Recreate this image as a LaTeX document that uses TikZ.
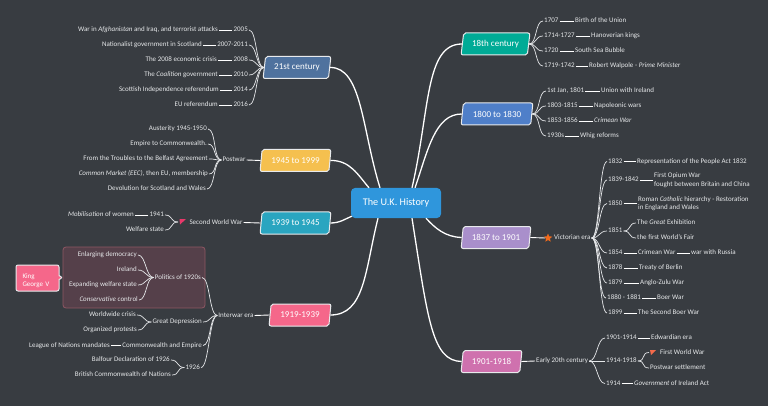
\documentclass[tikz,border=0pt]{standalone}
\usepackage{xcolor}
\usepackage{fontspec}
\setmainfont{Carlito}
\usetikzlibrary{shapes.geometric,shapes.callouts}
\definecolor{slate}{HTML}{383C41}
\definecolor{leaftext}{HTML}{E6E8EA}
\definecolor{edgewhite}{HTML}{E8EAEC}
\definecolor{blueroot}{HTML}{2F96DC}
\definecolor{bluesteel}{HTML}{4F729E}
\definecolor{amber}{HTML}{F5C04F}
\definecolor{teal}{HTML}{2AA5C0}
\definecolor{rosepink}{HTML}{F5678A}
\definecolor{jade}{HTML}{00AB96}
\definecolor{bluemid}{HTML}{4F7FC9}
\definecolor{lilac}{HTML}{A98FCB}
\definecolor{orchid}{HTML}{CF71AE}
\definecolor{grpfill}{HTML}{55404A}
\definecolor{grpline}{HTML}{8F5763}
\definecolor{starorange}{HTML}{F26A1B}
\definecolor{flagred}{HTML}{E8386A}
\definecolor{flagorange}{HTML}{F46A4B}
\tikzset{
	leaf/.style={inner sep=1pt,text=leaftext,text height=5pt,text depth=1.5pt,font=\fontsize{7}{8.4}\selectfont},
	leafl/.style={leaf,anchor=east},
	leafr/.style={leaf,anchor=west},
	para/.style={inner sep=1pt,text=leaftext,anchor=west,align=left,font=\fontsize{7}{8.4}\selectfont},
	topic/.style={trapezium,trapezium left angle=76,trapezium right angle=104,trapezium stretches=true,
		rounded corners=2pt,draw=edgewhite,line width=1pt,minimum height=22pt,inner sep=0pt,
		text=white,font=\fontsize{9}{10}\selectfont},
	trunk/.style={draw=white,line width=1.3pt},
	link/.style={draw=white,line width=0.9pt},
	thinline/.style={draw=leaftext,line width=0.7pt},
	twigl/.style={out=180,in=0,distance=8pt},
	twigr/.style={out=0,in=180,distance=8pt}
}
\begin{document}
\begin{tikzpicture}[x=1pt,y=-1pt]
	\fill[slate] (0,0) rectangle (768,406);
	\useasboundingbox (0,0) rectangle (768,406);

	% group behind the politics branch
	\node[rectangle,rounded corners=3pt,fill=grpfill,draw=grpline,line width=0.8pt,minimum width=142pt,minimum height=61pt,inner sep=0pt] (grp) at (134,277.5) {};
	\node[rectangle callout,callout absolute pointer={(grp.west)},callout pointer width=4pt,rounded corners=2pt,
		fill=rosepink,draw=edgewhite,line width=1pt,minimum width=43pt,minimum height=26pt,inner sep=2pt,text=white,
		align=left,text width=30pt,text depth=4pt,font=\fontsize{7}{8.4}\selectfont] (king) at (37.5,278) {King\\George V};

	% root and topics
	\node[rectangle,rounded corners=4pt,fill=blueroot,minimum width=90pt,minimum height=30pt,inner sep=0pt,text=white,font=\fontsize{10.2}{11}\selectfont] (hist) at (396,203) {The U.K. History};
	\node[topic,fill=bluesteel,minimum width=68pt] (tcent) at (297,67.5) {21st century};
	\node[topic,fill=amber,minimum width=71pt] (tpost) at (295.5,160.5) {1945 to 1999};
	\node[topic,fill=teal,minimum width=71pt] (twar) at (295.5,223) {1939 to 1945};
	\node[topic,fill=rosepink,minimum width=62pt] (tinter) at (300,315) {1919-1939};
	\node[topic,fill=jade,minimum width=69pt] (teight) at (495.5,44) {18th century};
	\node[topic,fill=bluemid,minimum width=72pt] (tnine) at (497,114) {1800 to 1830};
	\node[topic,fill=lilac,minimum width=70pt] (tvict) at (496,237.5) {1837 to 1901};
	\node[topic,fill=orchid,minimum width=61pt] (tearly) at (491.5,361.5) {1901-1918};

	\draw[trunk] ([xshift=-16pt]hist.north) .. controls (362,130) and (362,67) .. (tcent.east);
	\draw[trunk] ([xshift=-27pt]hist.north) .. controls (358,175) and (350,160) .. (tpost.east);
	\draw[trunk] ([xshift=1pt,yshift=2pt]hist.south west) .. controls (345,219) and (340,223) .. (twar.east);
	\draw[trunk] ([xshift=-18pt]hist.south) .. controls (365,270) and (365,315) .. (tinter.east);
	\draw[trunk] ([xshift=16pt]hist.north) .. controls (430,110) and (425,44) .. (teight.west);
	\draw[trunk] ([xshift=19pt]hist.north) .. controls (428,150) and (435,114) .. (tnine.west);
	\draw[trunk] ([xshift=30pt]hist.south) .. controls (435,228) and (445,237) .. (tvict.west);
	\draw[trunk] ([xshift=16pt]hist.south) .. controls (428,320) and (432,361) .. (tearly.west);

	% 21st century
	\node[leafl] (ca) at (249,30) {2005};
	\node[leafl] (cb) at (249,45) {2007-2011};
	\node[leafl] (cc) at (249,60) {2008};
	\node[leafl] (cd) at (249,75) {2010};
	\node[leafl] (ce) at (249,90) {2014};
	\node[leafl] (cf) at (249,105) {2016};
	\node[leafl] (cat) at (219,30) {War in \textit{Afghanistan} and Iraq, and terrorist attacks};
	\node[leafl] (cbt) at (203,45) {Nationalist government in Scotland};
	\node[leafl] (cct) at (218,60) {The 2008 economic crisis};
	\node[leafl] (cdt) at (219,75) {The \textit{Coalition} government};
	\node[leafl] (cet) at (220,90) {Scottish Independence referendum};
	\node[leafl] (cft) at (219,105) {EU referendum};
	\foreach \k in {a,b,c,d,e,f} {
		\draw[thinline] (tcent.west) to[twigl] (c\k.east);
		\draw[link] (c\k.west) -- (c\k t.east);
	}

	% 1945 to 1999
	\node[leaf] (pw) at (234,160) {Postwar};
	\node[leafl] (pa) at (208,129) {Austerity 1945-1950};
	\node[leafl] (pb) at (208,144) {Empire to Commonwealth.};
	\node[leafl] (pc) at (209,159) {From the Troubles to the Belfast Agreement};
	\node[leafl] (pd) at (209,174) {\textit{Common Market (EEC)}, then EU, membership};
	\node[leafl] (pe) at (207,189) {Devolution for Scotland and Wales};
	\draw[link] (tpost.west) -- (pw.east);
	\foreach \k in {a,b,c,d,e}
		\draw[thinline] (pw.west) to[twigl] (p\k.east);

	% 1939 to 1945
	\node[leaf] (sw) at (216,222.5) {Second World War};
	\coordinate (swj) at (178,222);
	\fill[flagred] (179.5,219) -- (186,219) -- (180,224.5) -- cycle;
	\node[leafl] (sa) at (165,215) {1941};
	\node[leafl] (sat) at (135,215) {\textit{Mobilisation} of women};
	\node[leafl] (sb) at (165,230) {Welfare state};
	\draw[link] (twar.west) -- (sw.east);
	\draw[link] (sa.west) -- (sat.east);
	\draw[thinline] (swj) to[twigl] (sa.east);
	\draw[thinline] (swj) to[twigl] (sb.east);

	% 1919-1939
	\node[leaf] (iw) at (236,315.5) {Interwar era};
	\node[leafl] (ia) at (202,277.5) {Politics of 1920s};
	\node[leafl] (ib) at (203,322) {Great Depression};
	\node[leafl] (ic) at (203,345.5) {Commonwealth and Empire};
	\node[leafl] (id) at (201,367.5) {1926};
	\node[leafl] (aa) at (138,255) {Enlarging democracy};
	\node[leafl] (ab) at (138,270) {Ireland};
	\node[leafl] (ac) at (138,285) {Expanding welfare state};
	\node[leafl] (ad) at (139,300) {\textit{Conservative} control};
	\node[leafl] (ba) at (137,315) {Worldwide crisis};
	\node[leafl] (bb) at (138,330) {Organized protests};
	\node[leafl] (ct) at (111,345.5) {League of Nations mandates};
	\node[leafl] (da) at (171,360) {Balfour Declaration of 1926};
	\node[leafl] (db) at (172,375) {British Commonwealth of Nations};
	\draw[link] (tinter.west) -- (iw.east);
	\draw[link] (ic.west) -- (ct.east);
	\foreach \k in {a,b,c,d}
		\draw[thinline] (iw.west) to[twigl] (i\k.east);
	\foreach \k in {a,b,c,d}
		\draw[thinline] (ia.west) to[twigl] (a\k.east);
	\foreach \k in {a,b}
		\draw[thinline] (ib.west) to[twigl] (b\k.east);
	\foreach \k in {a,b}
		\draw[thinline] (id.west) to[twigl] (d\k.east);

	% 18th century
	\node[leafr] (ea) at (543,21) {1707};
	\node[leafr] (eb) at (543,36) {1714-1727};
	\node[leafr] (ec) at (543,51) {1720};
	\node[leafr] (ed) at (543,66) {1719-1742};
	\node[leafr] (eat) at (574,21) {Birth of the Union};
	\node[leafr] (ebt) at (590,36) {Hanoverian kings};
	\node[leafr] (ect) at (574,51) {South Sea Bubble};
	\node[leafr] (edt) at (588,66) {Robert Walpole - \textit{Prime Minister}};
	\foreach \k in {a,b,c,d} {
		\draw[thinline] (teight.east) to[twigr] (e\k.west);
		\draw[link] (e\k.east) -- (e\k t.west);
	}

	% 1800 to 1830
	\node[leafr] (na) at (546,91) {1st Jan, 1801};
	\node[leafr] (nb) at (546,106) {1803-1815};
	\node[leafr] (nc) at (546,121) {1853-1856};
	\node[leafr] (nd) at (546,136) {1930s};
	\node[leafr] (nat) at (600,91) {Union with Ireland};
	\node[leafr] (nbt) at (593,106) {Napoleonic wars};
	\node[leafr] (nct) at (593,121) {\textit{Crimean War}};
	\node[leafr] (ndt) at (579,136) {Whig reforms};
	\foreach \k in {a,b,c,d} {
		\draw[thinline] (tnine.east) to[twigr] (n\k.west);
		\draw[link] (n\k.east) -- (n\k t.west);
	}

	% 1837 to 1901
	\node[star,star points=5,star point ratio=2.2,fill=starorange,minimum size=9pt,inner sep=0pt] (vstar) at (548,238) {};
	\node[leafr] (ve) at (553,238) {Victorian era};
	\draw[link] (tvict.east) -- (vstar.west);
	\node[leafr] (va) at (607,161.5) {1832};
	\node[leafr] (vb) at (607,180) {1839-1842};
	\node[leafr] (vc) at (607,203.5) {1850};
	\node[leafr] (vd) at (607,231) {1851};
	\node[leafr] (vf) at (607,253) {1854};
	\node[leafr] (vg) at (607,268) {1878};
	\node[leafr] (vh) at (607,283) {1879};
	\node[leafr] (vi) at (606,298) {1880 - 1881};
	\node[leafr] (vj) at (607,313) {1899};
	\node[leafr] (vat) at (636,161.5) {Representation of the People Act 1832};
	\node[para] (vbt) at (653,180) {First Opium War\\fought between Britain and China};
	\node[para] (vct) at (637,203.5) {Roman \textit{Catholic} hierarchy - Restoration\\in England and Wales};
	\node[leafr] (vda) at (636,223) {The \textit{Great} Exhibition};
	\node[leafr] (vdb) at (636,238) {the first World's Fair};
	\node[leafr] (vft) at (637,253) {Crimean War};
	\node[leafr] (vfu) at (690,253) {war with Russia};
	\node[leafr] (vgt) at (638,268) {Treaty of Berlin};
	\node[leafr] (vht) at (639,283) {Anglo-Zulu War};
	\node[leafr] (vit) at (656,298) {Boer War};
	\node[leafr] (vjt) at (637,313) {The Second Boer War};
	\foreach \k in {a,b,c,d,f,g,h,i,j}
		\draw[thinline] (ve.east) to[twigr] (v\k.west);
	\foreach \k in {a,b,c,f,g,h,i,j}
		\draw[link] (v\k.east) -- (v\k t.west);
	\draw[link] (vft.east) -- (vfu.west);
	\draw[thinline] (vd.east) to[twigr] (vda.west);
	\draw[thinline] (vd.east) to[twigr] (vdb.west);

	% 1901-1918
	\node[leafr] (ya) at (535,361) {Early 20th century};
	\draw[link] (tearly.east) -- (ya.west);
	\node[leafr] (yb) at (605,338) {1901-1914};
	\node[leafr] (yc) at (605,361) {1914-1918};
	\node[leafr] (yd) at (605,383.5) {1914};
	\node[leafr] (ybt) at (650,338) {Edwardian era};
	\coordinate (yflag) at (649,352.5);
	\fill[flagorange] (650,350) -- (656,350) -- (651,355) -- cycle;
	\node[leafr] (yca) at (659,353) {First World War};
	\node[leafr] (ycb) at (649,368) {Postwar settlement};
	\node[leafr] (ydt) at (633,383.5) {\textit{Government} of Ireland Act};
	\foreach \k in {b,c,d}
		\draw[thinline] (ya.east) to[twigr] (y\k.west);
	\draw[link] (yb.east) -- (ybt.west);
	\draw[link] (yd.east) -- (ydt.west);
	\draw[thinline] (yc.east) to[twigr] (yflag);
	\draw[thinline] (yc.east) to[twigr] (ycb.west);
\end{tikzpicture}
\end{document}
